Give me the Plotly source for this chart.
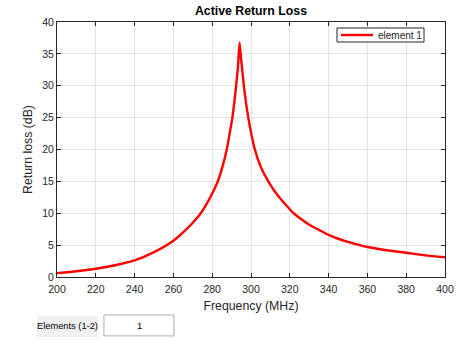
import plotly.graph_objects as go

# ---- data ----
freq_mhz = [200, 210, 220, 230, 240, 250, 260, 265, 270, 275, 279, 283, 285.5,
            287.5, 289, 290.4, 292.1, 293.3, 294.1, 294.8, 296.5, 298.6, 302,
            305, 308.9, 314, 322, 326, 330, 335, 340, 345, 350, 360, 370, 380, 390, 400]
return_loss_db = [0.6, 0.9, 1.3, 1.85, 2.6, 3.9, 5.7, 7.0, 8.5, 10.4, 12.5, 15.1, 17.5,
                  20.0, 22.5, 25.0, 29.3, 33.0, 36.8, 34.5, 29.5, 25.0, 20.0,
                  17.3, 15.0, 12.7, 10.0, 9.05, 8.2, 7.4, 6.6, 6.0, 5.5, 4.7, 4.2, 3.8, 3.4, 3.1]
series_name = "element 1"
x_ticks = [200, 220, 240, 260, 280, 300, 320, 340, 360, 380, 400]
y_ticks = [0, 5, 10, 15, 20, 25, 30, 35, 40]
LINE_COLOR = "#ff0000"

FONT = "Liberation Sans, Arial, sans-serif"
AX = "#262626"
GRID = "#e3e3e3"

fig = go.Figure()
fig.add_trace(go.Scatter(
    x=freq_mhz, y=return_loss_db, mode="lines", name=series_name,
    line=dict(color=LINE_COLOR, width=2.4, shape="spline", smoothing=0.5),
    showlegend=False,
))

axis_common = dict(
    showline=True, linecolor=AX, linewidth=1, mirror="allticks",
    ticks="inside", ticklen=4, tickcolor=AX, tickwidth=1,
    showgrid=True, gridcolor=GRID, gridwidth=1, zeroline=False,
    automargin=False,
    tickfont=dict(family=FONT, size=10.5, color=AX),
)

fig.update_layout(
    width=474, height=355,
    margin=dict(l=57, r=29, t=22, b=78),
    paper_bgcolor="white", plot_bgcolor="white",
    title=dict(text="<b>Active Return Loss</b>", x=0.5295, xanchor="center",
               y=0.969, yanchor="middle", automargin=False,
               font=dict(family=FONT, size=12.3, color="black")),
    xaxis=dict(range=[200, 400], tickvals=x_ticks, ticklabelstandoff=2,
               title=dict(text="Frequency (MHz)", standoff=7,
                          font=dict(family=FONT, size=12.3, color=AX)),
               **axis_common),
    yaxis=dict(range=[0, 40], tickvals=y_ticks,
               title=dict(text="Return loss (dB)", standoff=6,
                          font=dict(family=FONT, size=12.3, color=AX)),
               **axis_common),
    showlegend=False,
)

# ---- legend box (drawn like the MATLAB legend) ----
fig.add_shape(type="rect", xref="paper", yref="paper",
              x0=0.7216, x1=0.9459, y0=0.9216, y1=0.9765,
              fillcolor="white", line=dict(color=AX, width=1))
fig.add_shape(type="line", xref="paper", yref="paper",
              x0=0.732, x1=0.8144, y0=0.949, y1=0.949,
              line=dict(color=LINE_COLOR, width=2.4))
fig.add_annotation(xref="paper", yref="paper", x=0.821, y=0.949,
                   text=series_name, showarrow=False,
                   xanchor="left", yanchor="middle",
                   font=dict(family=FONT, size=10, color=AX))

# ---- "Elements (1-2)" control below the axes ----
fig.add_shape(type="rect", xref="paper", yref="paper",
              x0=-0.0515, x1=0.1057, y0=-0.235, y1=-0.153,
              fillcolor="#f0f0f0", line=dict(width=0), layer="below")
fig.add_shape(type="rect", xref="paper", yref="paper",
              x0=0.121, x1=0.3015, y0=-0.231, y1=-0.149,
              fillcolor="white", line=dict(color="#adadad", width=1))
fig.add_annotation(xref="paper", yref="paper", x=0.027, y=-0.192,
                   text="Elements (1-2)", showarrow=False,
                   xanchor="center", yanchor="middle",
                   font=dict(family=FONT, size=9.3, color="black"))
fig.add_annotation(xref="paper", yref="paper", x=0.2115, y=-0.192,
                   text="1", showarrow=False,
                   xanchor="center", yanchor="middle",
                   font=dict(family=FONT, size=9.5, color="black"))

fig.write_html("out.html", config={"displayModeBar": False},
               post_script="document.body.style.margin='0';")
